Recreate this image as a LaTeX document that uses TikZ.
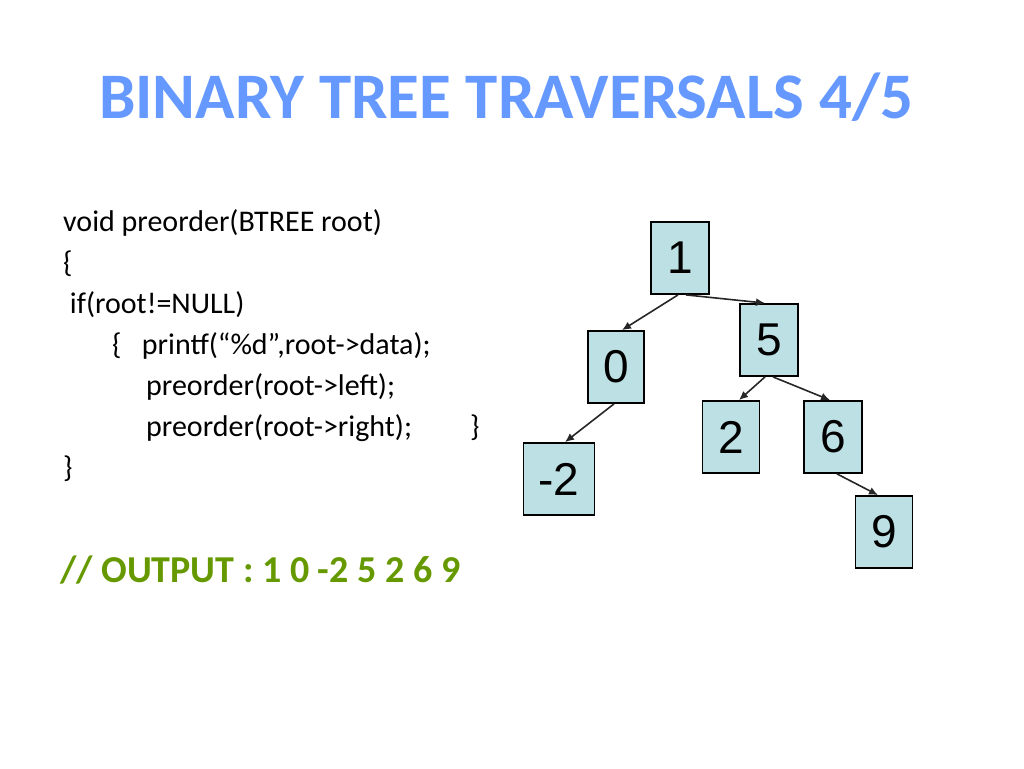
\documentclass[tikz,border=0pt]{standalone}
\usepackage{fontspec}
\setmainfont{Carlito}
\newfontfamily\treefont{Liberation Sans}
\usetikzlibrary{positioning, arrows.meta}
\definecolor{titleblue}{RGB}{102,153,255}
\definecolor{outgreen}{RGB}{102,153,0}
\definecolor{boxfill}{RGB}{188,224,228}

\begin{document}
\begin{tikzpicture}[
    x=1pt, y=-1pt,
    treebox/.style={rectangle, draw, line width=1.8pt, fill=boxfill, font=\treefont\fontsize{46}{46}\selectfont, minimum width=58pt, minimum height=72pt, inner sep=0pt},
    codeline/.style={anchor=base west, inner sep=0pt, font=\fontsize{30}{30}\selectfont},
    edge/.style={-{Latex[length=9pt,width=8pt]}, line width=1.6pt, draw=black!85}
]
\useasboundingbox (0,0) rectangle (1024,768);

% title
\node [font=\bfseries\fontsize{65}{65}\selectfont, text=titleblue] (title) at (506,97) {BINARY TREE TRAVERSALS 4/5};

% code
\node [codeline] (c1) at (63,231) {void preorder(BTREE root)};
\node [codeline] (c2) at (63,272) {\{};
\node [codeline] (c3) at (63,313) {\ if(root!=NULL)};
\node [codeline] (c4) at (112,354) {\{\ \ \ printf(“\%d”,root->data);};
\node [codeline] (c5) at (146,395) {preorder(root->left);};
\node [codeline] (c6) at (146,436) {preorder(root->right);};
\node [codeline] (c7) at (470,436) {\}};
\node [codeline] (c8) at (63,477) {\}};
\node [anchor=base west, inner sep=0pt, font=\bfseries\fontsize{38}{38}\selectfont, text=outgreen] (out) at (60,582) {// OUTPUT : 1 0 -2 5 2 6 9};

% tree
\node [treebox] (one) at (680,258) {1};
\node [treebox, minimum width=56pt] (zero) at (616,367) {0};
\node [treebox] (five) at (769,340) {5};
\node [treebox, minimum width=57pt] (two) at (731,437) {2};
\node [treebox] (six) at (833,437) {6};
\node [treebox, minimum width=71pt] (mtwo) at (559,479) {-2};
\node [treebox, minimum width=57pt] (nine) at (884,532) {9};

\draw [edge] ([xshift=-2pt]one.south) -- ([xshift=6pt]zero.north);
\draw [edge] ([xshift=6pt]one.south) -- ([xshift=-4pt]five.north);
\draw [edge] ([xshift=-2pt]zero.south) -- ([xshift=6pt]mtwo.north);
\draw [edge] ([xshift=-4pt]five.south) -- ([xshift=8pt]two.north);
\draw [edge] ([xshift=4pt]five.south) -- ([xshift=-3pt]six.north);
\draw [edge] ([xshift=4pt]six.south) -- ([xshift=-6pt]nine.north);
\end{tikzpicture}
\end{document}
